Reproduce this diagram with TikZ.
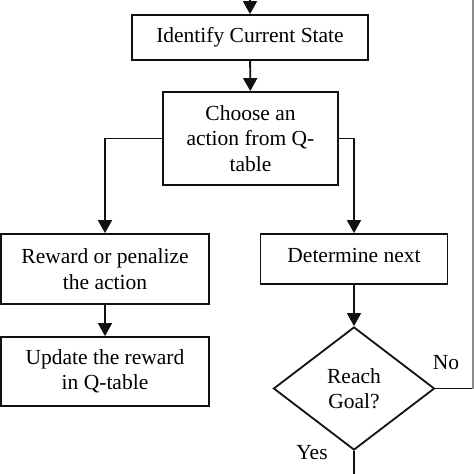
\documentclass[tikz,border=0pt]{standalone}
\usepackage{fontspec}
\setmainfont{Liberation Serif}
\usepackage{tikz}
\usetikzlibrary{arrows.meta,calc,positioning,shapes.geometric}
\definecolor{Ink}{HTML}{111111}
\definecolor{Edge}{HTML}{8C8C8C}
\tikzset{stepbox/.style={draw=Ink,line width=1.8pt,fill=white,align=center,inner sep=2pt,font=\fontsize{21.5}{25.5}\selectfont},decision/.style={diamond,draw=Ink,line width=1.8pt,align=center,inner sep=0pt,minimum width=161pt,minimum height=123pt,font=\fontsize{21.5}{25.5}\selectfont},flow/.style={-{Triangle[length=13pt,width=14pt]},line width=1.8pt,draw=Ink},tag/.style={font=\fontsize{21.5}{25.5}\selectfont}}
\begin{document}
\begin{tikzpicture}[x=1pt,y=-1pt]
        \useasboundingbox(0,0)rectangle(474,474);
        \node[stepbox,minimum width=236pt,minimum height=45pt](ident)at(250,37.5){Identify Current State};
        \node[stepbox,minimum width=175pt,minimum height=93pt](choose)at(250.5,138.5){Choose an\\action from Q-\\table};
        \node[stepbox,minimum width=208pt,minimum height=70pt](reward)at(105,269){Reward or penalize\\the action};
        \node[stepbox,minimum width=208pt,minimum height=69pt](update)at(105,371.5){Update the reward\\in Q-table};
        \node[stepbox,minimum width=187pt,minimum height=50pt,text depth=8pt](determ)at(354,259){Determine next};
        \node[decision](goal)at(354,388.5){Reach\\Goal?};
        \coordinate(entry)at(250,0);
        \coordinate(exit)at(354,474);
        \coordinate(loop)at(472.5,388.5);
        \draw[flow](entry)--(ident);
        \draw[flow](ident)--(choose);
        \draw[flow](choose.west)-|(reward.north);
        \draw[flow](choose.east)-|(determ.north);
        \draw[flow](reward)--(update);
        \draw[flow](determ)--(goal);
        \draw[line width=1.8pt,Ink](goal.south)--(exit);
        \draw[line width=1.8pt,Ink](goal.east)--(loop);
        \draw[line width=2pt,Edge](loop)--(472.5,0);
        \node[tag](no)at(446,363){No};
        \node[tag](yes)at(312,453){Yes};
      \end{tikzpicture}
\end{document}
